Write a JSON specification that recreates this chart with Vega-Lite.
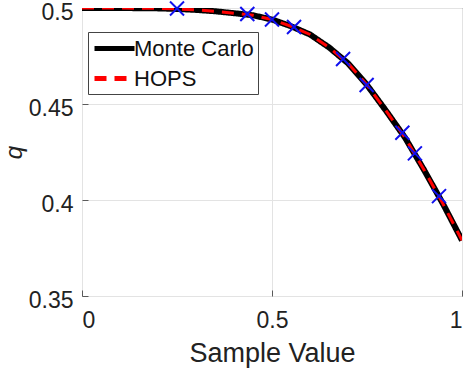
{
  "$schema": "https://vega.github.io/schema/vega-lite/v6.json",
  "width": 380,
  "height": 288,
  "autosize": "none",
  "padding": {"left": 82, "top": 8, "right": 12, "bottom": 81},
  "background": "white",
  "config": {
    "font": "Liberation Sans",
    "view": {"stroke": "#5a5a5a", "strokeWidth": 1}
  },
  "datasets": {
    "curve": [
      {"x": 0.0, "q": 0.5},
      {"x": 0.05, "q": 0.5},
      {"x": 0.1, "q": 0.5},
      {"x": 0.15, "q": 0.4999},
      {"x": 0.2, "q": 0.4998},
      {"x": 0.25, "q": 0.4995},
      {"x": 0.3, "q": 0.499},
      {"x": 0.35, "q": 0.4983},
      {"x": 0.4, "q": 0.4973},
      {"x": 0.45, "q": 0.4962},
      {"x": 0.5, "q": 0.494},
      {"x": 0.55, "q": 0.4905},
      {"x": 0.6, "q": 0.4862},
      {"x": 0.65, "q": 0.4795},
      {"x": 0.7, "q": 0.4712},
      {"x": 0.75, "q": 0.4599},
      {"x": 0.8, "q": 0.4465},
      {"x": 0.85, "q": 0.4325},
      {"x": 0.9, "q": 0.4157},
      {"x": 0.95, "q": 0.398},
      {"x": 1.0, "q": 0.379}
    ],
    "markers": [
      {"x": 0.25, "q": 0.4997},
      {"x": 0.435, "q": 0.4969},
      {"x": 0.5, "q": 0.494},
      {"x": 0.558, "q": 0.4901},
      {"x": 0.687, "q": 0.4734},
      {"x": 0.749, "q": 0.4599},
      {"x": 0.843, "q": 0.435},
      {"x": 0.876, "q": 0.4243},
      {"x": 0.9395, "q": 0.402}
    ]
  },
  "layer": [
    {
      "data": {"name": "curve"},
      "transform": [{"calculate": "'Monte Carlo'", "as": "series"}],
      "mark": {"type": "line", "strokeWidth": 6, "color": "black", "clip": true},
      "encoding": {
        "x": {
          "field": "x", "type": "quantitative",
          "scale": {"domain": [0, 1], "nice": false},
          "axis": {
            "values": [0, 0.5, 1], "format": "~g", "title": "Sample Value",
            "labelFontSize": 23, "titleFontSize": 27, "labelColor": "#222", "titleColor": "#222",
            "titleFontWeight": "normal", "labelPadding": 19, "titlePadding": 8,
            "domain": false, "ticks": true, "tickSize": -6, "tickColor": "#5a5a5a", "gridColor": "#e3e3e3"
          }
        },
        "y": {
          "field": "q", "type": "quantitative",
          "scale": {"domain": [0.35, 0.5], "nice": false, "zero": false},
          "axis": {
            "values": [0.35, 0.4, 0.45, 0.5], "format": "~g", "title": "q",
            "labelFontSize": 23, "titleFontSize": 24, "titleFontStyle": "italic", "labelColor": "#222", "titleColor": "#222",
            "titleFontWeight": "normal", "labelPadding": 15, "titleX": -68, "titleBaseline": "middle", "labelOffset": 4,
            "domain": false, "ticks": true, "tickSize": -6, "tickColor": "#5a5a5a", "gridColor": "#e3e3e3"
          }
        },
        "color": {
          "field": "series", "type": "nominal",
          "scale": {"domain": ["Monte Carlo", "HOPS"], "range": ["black", "#ff0000"]},
          "legend": {
            "orient": "none", "legendX": 6, "legendY": 24, "title": null,
            "symbolType": "M-1,0L3,0", "symbolSize": 400, "symbolStrokeWidth": 5,
            "labelFontSize": 22, "labelColor": "#111", "rowPadding": 6,
            "strokeColor": "#444", "fillColor": "white", "padding": 4,
            "labelOffset": 17
          }
        },
        "strokeDash": {
          "field": "series", "type": "nominal",
          "scale": {"domain": ["Monte Carlo", "HOPS"], "range": [[1, 0], [12, 8]]},
          "legend": null
        }
      }
    },
    {
      "data": {"name": "curve"},
      "transform": [{"calculate": "'HOPS'", "as": "series"}],
      "mark": {"type": "line", "strokeWidth": 3, "color": "#ff0000", "strokeDash": [12, 8], "clip": true},
      "encoding": {
        "x": {"field": "x", "type": "quantitative"},
        "y": {"field": "q", "type": "quantitative"},
        "color": {"field": "series", "type": "nominal"},
        "strokeDash": {"field": "series", "type": "nominal"}
      }
    },
    {
      "data": {"name": "markers"},
      "mark": {"type": "point", "shape": "M-1,-1L1,1M-1,1L1,-1", "size": 196, "strokeWidth": 2, "color": "#1010ee", "filled": false, "opacity": 1},
      "encoding": {
        "x": {"field": "x", "type": "quantitative"},
        "y": {"field": "q", "type": "quantitative"}
      }
    }
  ]
}
